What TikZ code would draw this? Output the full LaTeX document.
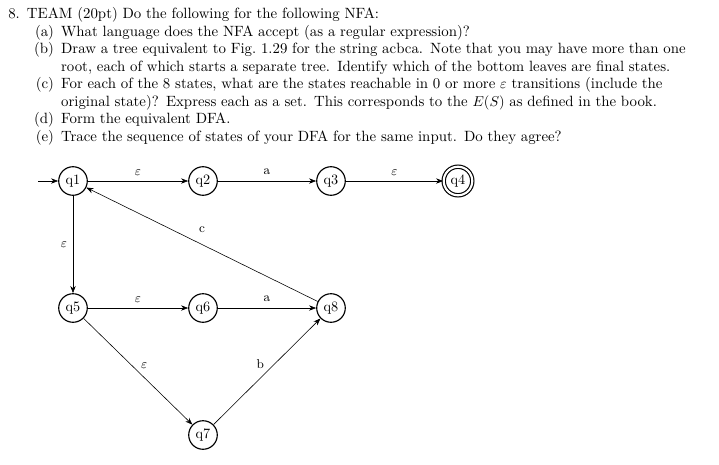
\documentclass[tikz,border=0pt]{standalone}
\usetikzlibrary{arrows.meta}
\begin{document}
\begin{tikzpicture}[x=0.7pt,y=-0.7pt,
  st/.style={circle,draw,thick,minimum size=20pt,inner sep=0pt},
  acc/.style={st,double,double distance=1.5pt},
  tr/.style={-{Stealth[length=5pt]},thin},
  lb/.style={font=\small,inner sep=2pt}]
\useasboundingbox (0,0) rectangle (719,464);
\node[anchor=north west,inner sep=0pt,text width=495pt,align=left] (txt) at (8,7) {%
\fontsize{10.4}{12.3}\selectfont
8. TEAM (20pt) Do the following for the following NFA:
\begin{list}{}{\leftmargin=37pt\labelsep=5pt\labelwidth=24pt\topsep=0pt\itemsep=0pt\parsep=0pt\partopsep=0pt}
\item[(a)] What language does the NFA accept (as a regular expression)?
\item[(b)] Draw a tree equivalent to Fig.\ 1.29 for the string acbca. Note that you may have more than one\\ root, each of which starts a separate tree. Identify which of the bottom leaves are final states.
\item[(c)] For each of the 8 states, what are the states reachable in 0 or more $\varepsilon$ transitions (include the\\ original state)? Express each as a set. This corresponds to the $E(S)$ as defined in the book.
\item[(d)] Form the equivalent DFA.
\item[(e)] Trace the sequence of states of your DFA for the same input. Do they agree?
\end{list}};
\node[st] (q1) at (73,181) {q1};
\node[st] (q2) at (203,181) {q2};
\node[st] (q3) at (331,181) {q3};
\node[acc] (q4) at (458,181) {q4};
\node[st] (q5) at (73,308) {q5};
\node[st] (q6) at (203,308) {q6};
\node[st] (q8) at (331,308) {q8};
\node[st] (q7) at (203,435) {q7};
\coordinate (s) at (38,181);
\draw[tr] (s) -- (q1);
\draw[tr] (q1) -- node[lb,above=2pt]{$\varepsilon$} (q2);
\draw[tr] (q2) -- node[lb,above=2pt]{a} (q3);
\draw[tr] (q3) -- node[lb,above=2pt]{$\varepsilon$} (q4);
\draw[tr] (q1) -- node[lb,left=2pt]{$\varepsilon$} (q5);
\draw[tr] (q5) -- node[lb,above=2pt]{$\varepsilon$} (q6);
\draw[tr] (q6) -- node[lb,above=2pt]{a} (q8);
\draw[tr] (q8) -- node[lb,above=6pt]{c} (q1);
\draw[tr] (q5) -- node[lb,above right]{$\varepsilon$} (q7);
\draw[tr] (q7) -- node[lb,above left]{b} (q8);
\end{tikzpicture}
\end{document}
